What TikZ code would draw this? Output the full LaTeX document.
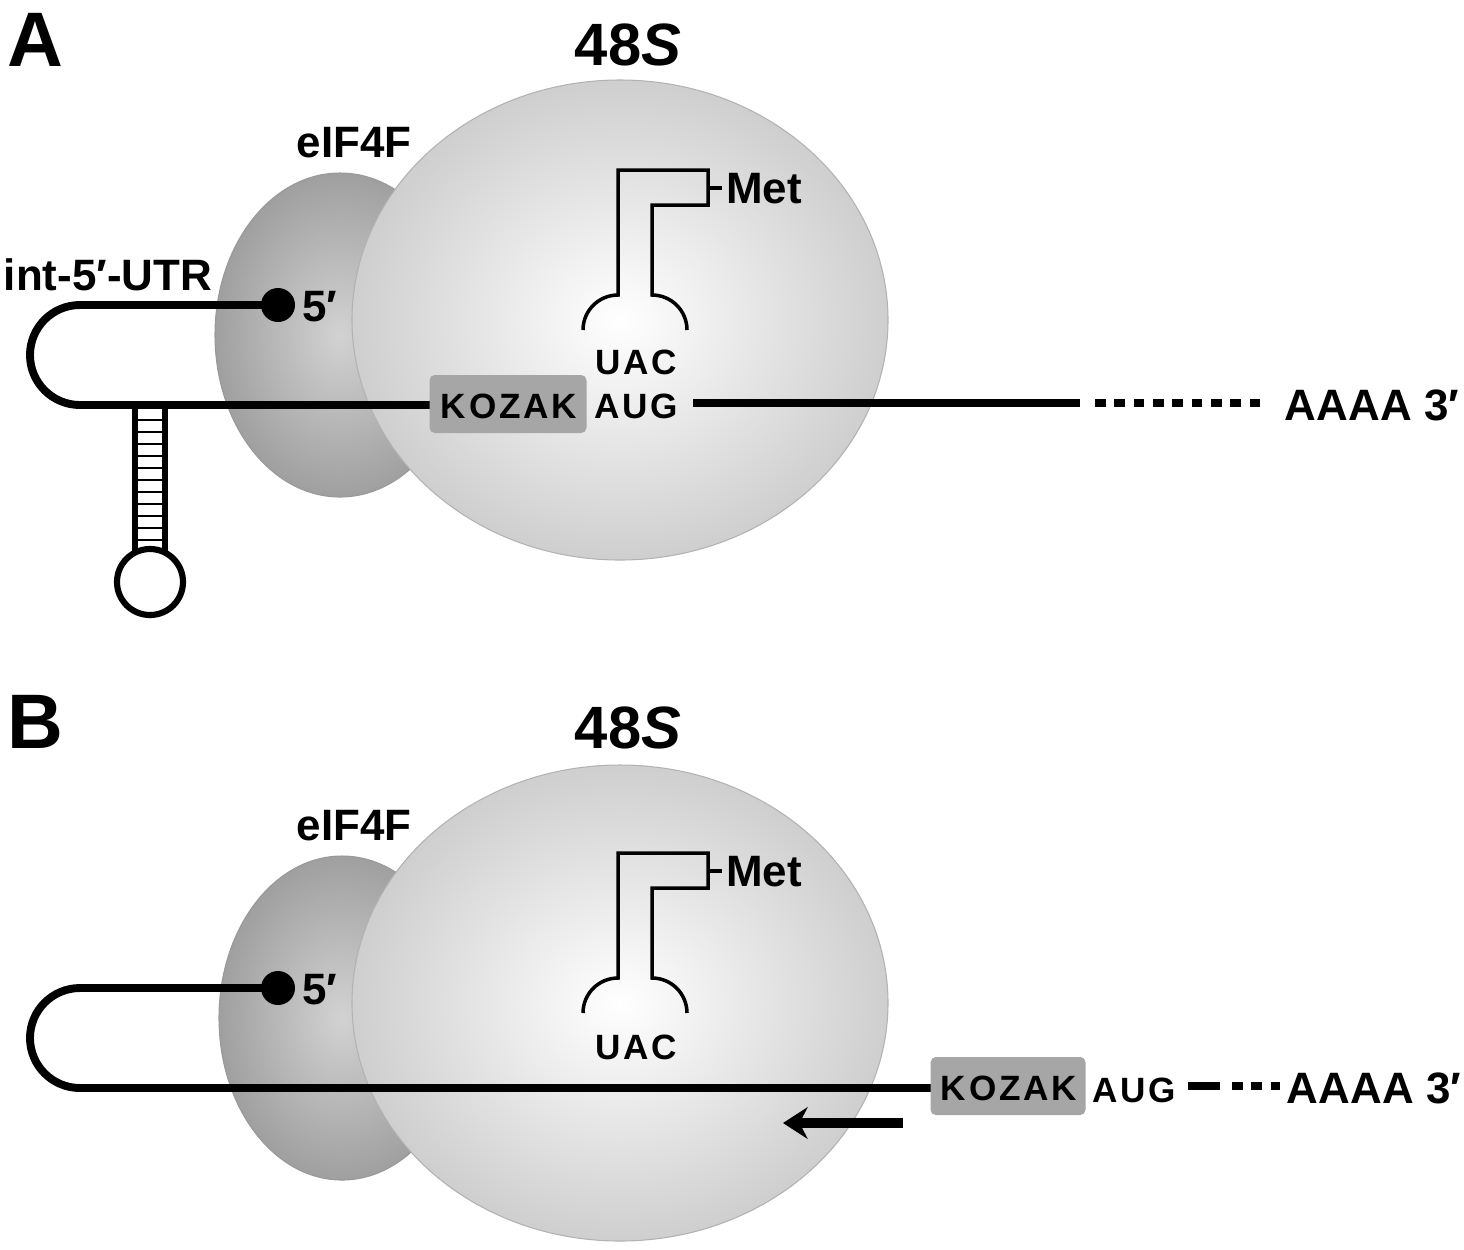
\documentclass[tikz,border=0pt]{standalone}
\usepackage{fontspec}
\setmainfont{Liberation Sans}
\usetikzlibrary{arrows.meta}
\begin{document}
\begin{tikzpicture}[x=0.02cm,y=-0.02cm,
  lbl/.style={font=\bfseries\fontsize{25}{27}\selectfont,inner sep=0},
  big/.style={font=\bfseries\fontsize{44}{46}\selectfont,inner sep=0},
  ttl/.style={font=\bfseries\fontsize{34}{36}\selectfont,inner sep=0},
  seq/.style={font=\bfseries\fontsize{20}{22}\selectfont\addfontfeature{LetterSpace=8},inner sep=0},
  rna/.style={line width=4.5pt},
  trna/.style={line width=2pt},
  kbox/.style={fill=gray!70,rounded corners=3pt,draw=none},
  dots/.style={line width=4.5pt,dash pattern=on 6pt off 5pt}]
\useasboundingbox (0,0) rectangle (1464,1249);

% ---------------- Panel A ----------------
\node[big] (labA) at (35,40) {A};
\node[ttl] (t48a) at (628,45) {48\textit{S}};
\node[lbl] (eifa) at (354,143) {eIF4F};
\shade[inner color=gray!35,outer color=gray!75,draw=gray!80,line width=0.6pt] (340,335) ellipse [x radius=125,y radius=162];
\shade[inner color=white,outer color=gray!38,draw=gray!60,line width=0.6pt] (620,320) ellipse [x radius=268,y radius=240];
% tRNA
\draw[trna] (583,330) arc[start angle=180,end angle=270,radius=35] -- (618,170) -- (708,170) -- (708,205) -- (652,205) -- (652,295) arc[start angle=270,end angle=360,radius=35];
\draw[trna] (708,188) -- (722,188);
\node[lbl,anchor=west] (meta) at (726,189) {Met};
\node[seq] (uaca) at (636,362) {UAC};
% mRNA
\coordinate (capa) at (278,305);
\draw[rna] (capa) -- (80,305) arc[start angle=270,end angle=90,radius=50] -- (432,405);
\fill (capa) circle (17);
\node[lbl] (fivea) at (320,307) {5′};
\node[lbl] (utr) at (108,275) {int-5′-UTR};
% stem loop
\draw[line width=3.5pt] (135,405) -- (135,553);
\draw[line width=3.5pt] (165,405) -- (165,553);
\foreach \y in {420,432,...,550} \draw[line width=1.5pt] (135,\y) -- (165,\y);
\draw[line width=3.5pt,fill=white] (150,582) circle (33);
\node[kbox,minimum width=157*0.02cm,minimum height=58*0.02cm] (kza) at (508,404) {};
\node[seq] at (509,406) {KOZAK};
\node[seq] (auga) at (636,406) {AUG};
\draw[rna] (693,403) -- (1080,403);
\draw[dots] (1095,403) -- (1268,403);
\node[lbl] (polya) at (1372,405) {AAAA 3′};

% ---------------- Panel B ----------------
\node[big] (labB) at (35,722) {B};
\node[ttl] (t48b) at (628,728) {48\textit{S}};
\node[lbl] (eifb) at (354,826) {eIF4F};
\shade[inner color=gray!35,outer color=gray!75,draw=gray!80,line width=0.6pt] (342,1018) ellipse [x radius=123,y radius=162];
\shade[inner color=white,outer color=gray!38,draw=gray!60,line width=0.6pt] (620,1003) ellipse [x radius=268,y radius=238];
\draw[trna] (583,1013) arc[start angle=180,end angle=270,radius=35] -- (618,853) -- (708,853) -- (708,888) -- (652,888) -- (652,978) arc[start angle=270,end angle=360,radius=35];
\draw[trna] (708,871) -- (722,871);
\node[lbl,anchor=west] (metb) at (726,872) {Met};
\node[seq] (uacb) at (636,1047) {UAC};
\coordinate (capb) at (278,988);
\draw[rna] (capb) -- (80,988) arc[start angle=270,end angle=90,radius=50] -- (932,1088);
\fill (capb) circle (17);
\node[lbl] (fiveb) at (320,990) {5′};
\node[kbox,minimum width=155*0.02cm,minimum height=58*0.02cm] (kzb) at (1008,1086) {};
\node[seq] at (1009,1088) {KOZAK};
\node[seq] (augb) at (1134,1090) {AUG};
\draw[rna] (1188,1086) -- (1220,1086);
\draw[dots] (1232,1086) -- (1280,1086);
\node[lbl] (polyb) at (1374,1088) {AAAA 3′};
\coordinate (arS) at (903,1123);
\coordinate (arE) at (783,1123);
\draw[line width=6pt,-{Stealth[length=14pt,width=18pt]}] (arS) -- (arE);
\end{tikzpicture}
\end{document}
